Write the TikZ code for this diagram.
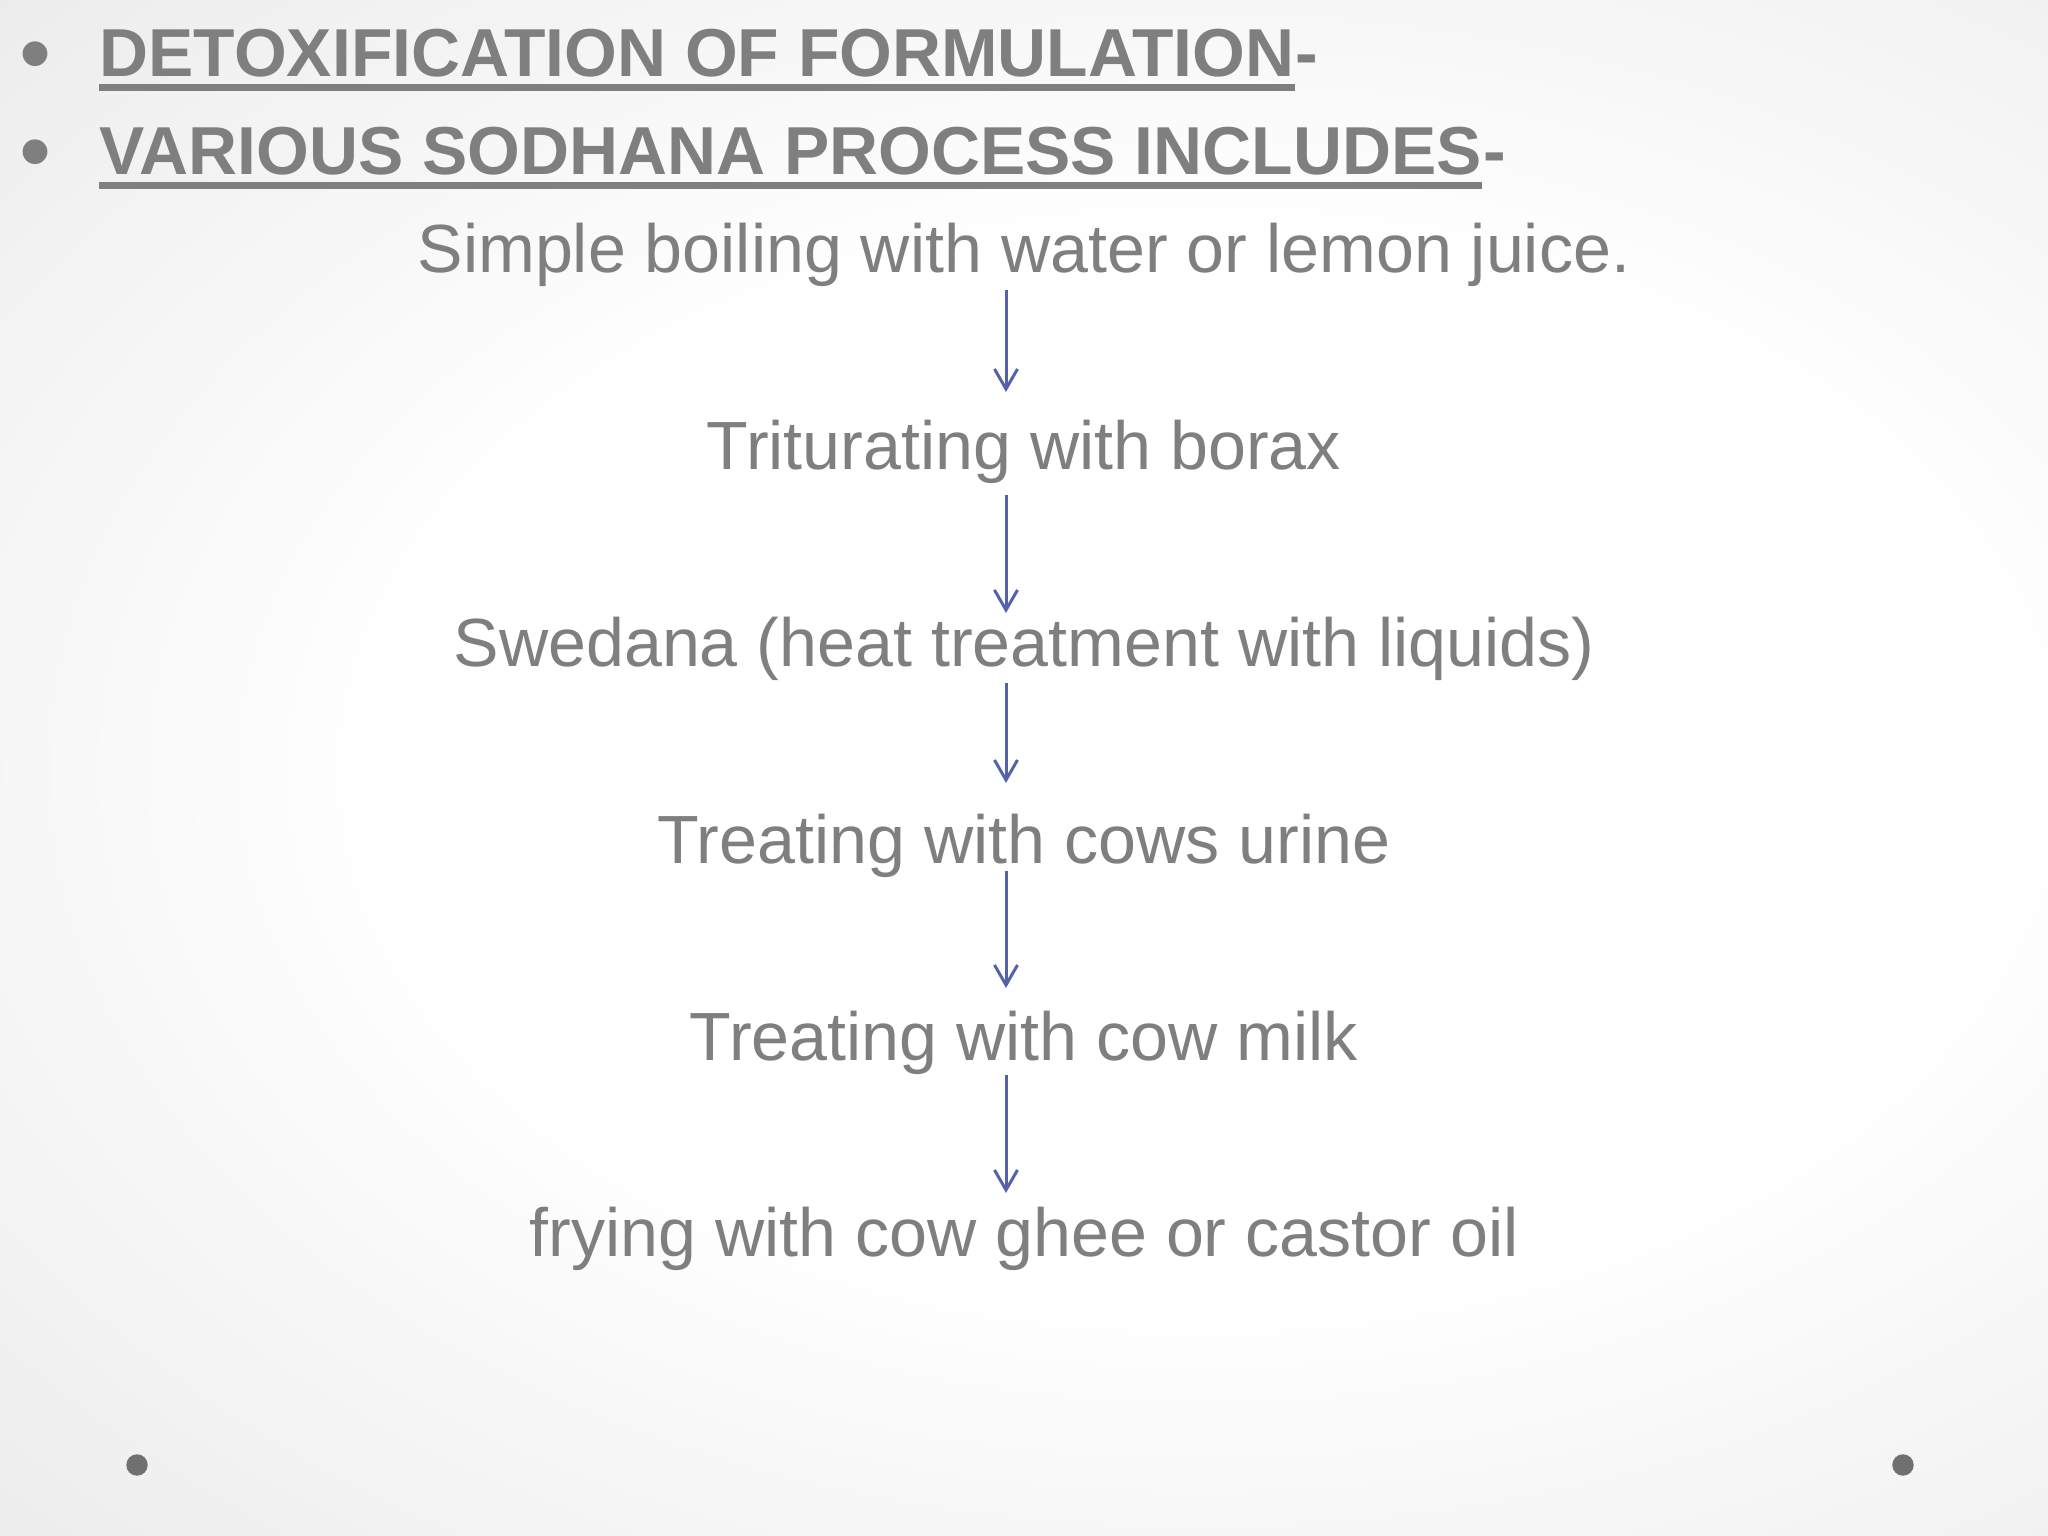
\documentclass[tikz,border=0pt]{standalone}
\usepackage{fontspec}
\setmainfont{Liberation Sans}
\usetikzlibrary{arrows.meta}

\definecolor{txtgray}{RGB}{127,127,127}
\definecolor{dotgray}{RGB}{112,112,112}
\definecolor{arrowblue}{RGB}{84,98,172}
\pgfdeclareradialshading{slidebg}{\pgfpoint{0bp}{0bp}}{%
  color(0bp)=(white); color(14bp)=(white); color(50bp)=(black!17)}

\begin{document}
\begin{tikzpicture}[
    heading/.style={anchor=base west, inner sep=0pt, text=txtgray,
      font=\fontsize{19.3}{23}\selectfont\bfseries},
    stage/.style={anchor=base, inner sep=0pt, text=txtgray,
      font=\fontsize{19.4}{23}\selectfont},
    bulletmark/.style={anchor=base, inner sep=0pt, text=txtgray,
      font=\fontsize{26}{30}\selectfont},
    flow/.style={draw=arrowblue, line width=0.03cm,
      -{Straight Barb[length=0.2cm,width=0.23cm]}}]
  \useasboundingbox (0,0) rectangle (20.48,-15.36);
  % background
  \begin{scope}
    \clip (0,0) rectangle (20.48,-15.36);
    \shade[shading=slidebg] (-2.2,1.6) rectangle (26.2,-17.0);
  \end{scope}

  % headings
  \node[bulletmark] (b1) at (0.35,-0.85) {•};
  \node[heading] (h1) at (0.99,-0.77) {DETOXIFICATION OF FORMULATION};
  \node[heading] (h1dash) at (h1.base east) {-};
  \draw[txtgray, line width=0.065cm] ([yshift=-0.105cm]h1.base west) -- ([yshift=-0.105cm]h1.base east);

  \node[bulletmark] (b2) at (0.35,-1.83) {•};
  \node[heading] (h2) at (0.99,-1.75) {VARIOUS SODHANA PROCESS INCLUDES};
  \node[heading] (h2dash) at (h2.base east) {-};
  \draw[txtgray, line width=0.065cm] ([yshift=-0.105cm]h2.base west) -- ([yshift=-0.105cm]h2.base east);

  % sodhana steps
  \node[stage] (s1) at (10.24,-2.73) {Simple boiling with water or lemon juice.};
  \node[stage] (s2) at (10.24,-4.70) {Triturating with borax};
  \node[stage] (s3) at (10.24,-6.67) {Swedana (heat treatment with liquids)};
  \node[stage] (s4) at (10.24,-8.63) {Treating with cows urine};
  \node[stage] (s5) at (10.24,-10.60) {Treating with cow milk};
  \node[stage] (s6) at (10.24,-12.56) {frying with cow ghee or castor oil};

  \draw[flow] ([xshift=-0.18cm,yshift=-0.17cm]s1.base) -- ([xshift=-0.18cm,yshift=0.78cm]s2.base);
  \draw[flow] ([xshift=-0.18cm,yshift=-0.25cm]s2.base) -- ([xshift=-0.18cm,yshift=0.54cm]s3.base);
  \draw[flow] ([xshift=-0.18cm,yshift=-0.16cm]s3.base) -- ([xshift=-0.18cm,yshift=0.80cm]s4.base);
  \draw[flow] ([xshift=-0.18cm,yshift=-0.08cm]s4.base) -- ([xshift=-0.18cm,yshift=0.72cm]s5.base);
  \draw[flow] ([xshift=-0.18cm,yshift=-0.15cm]s5.base) -- ([xshift=-0.18cm,yshift=0.63cm]s6.base);

  % slide corner dots
  \filldraw[dotgray] (1.37,-14.65) circle (0.1);
  \filldraw[dotgray] (19.03,-14.65) circle (0.1);
\end{tikzpicture}
\end{document}
